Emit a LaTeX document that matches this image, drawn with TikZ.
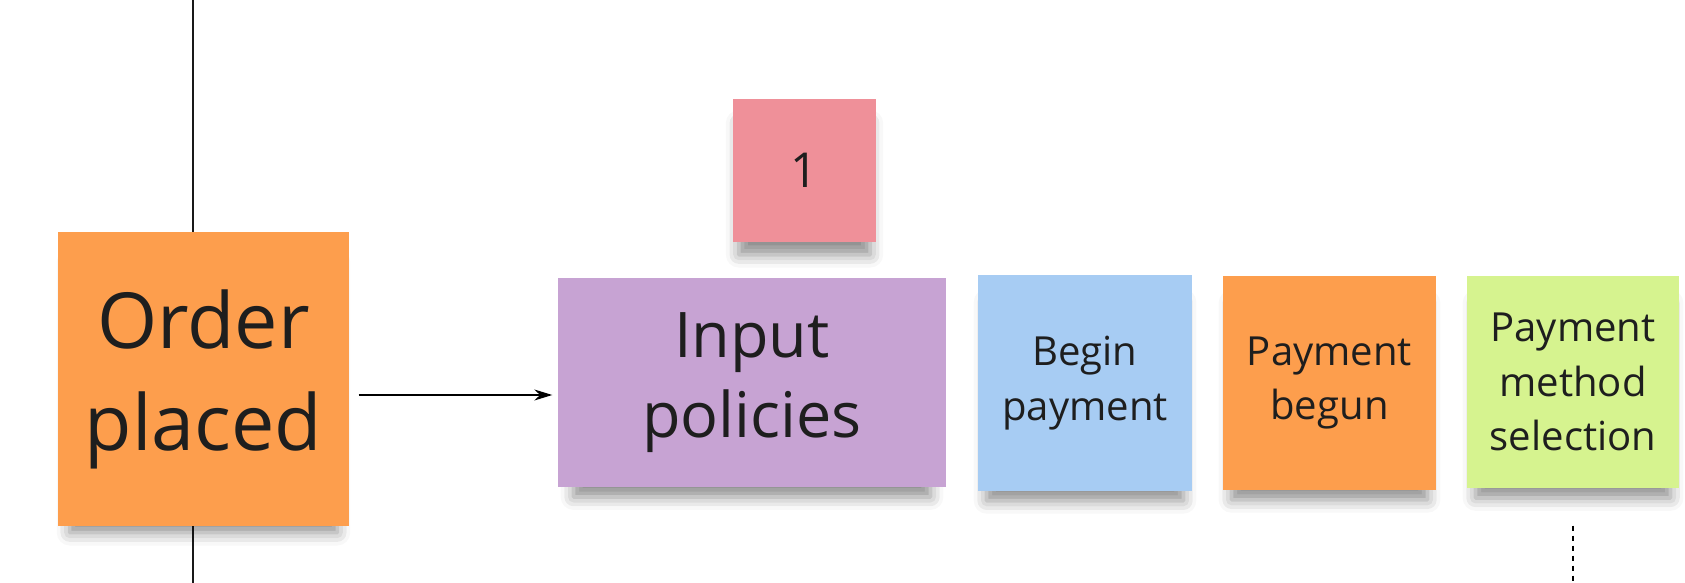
\documentclass[tikz,border=0pt]{standalone}
\usepackage{fontspec}
\setmainfont{Open Sans}
\usetikzlibrary{arrows.meta,positioning,shadows.blur}

\definecolor{noteorange}{HTML}{FD9E4D}
\definecolor{notepurple}{HTML}{C7A3D3}
\definecolor{notepink}{HTML}{EF9099}
\definecolor{noteblue}{HTML}{A7CCF3}
\definecolor{notegreen}{HTML}{D6F38F}
\definecolor{notetext}{HTML}{1E1E1E}

\begin{document}
\begin{tikzpicture}[
    note/.style={rectangle, fill=#1, inner sep=0pt, align=center, text=notetext,
      blur shadow={shadow xshift=0pt, shadow yshift=-0.2cm, shadow scale=0.92,
        shadow opacity=45, shadow blur radius=0.14cm}},
    bigtext/.style={font=\fontsize{22}{29}\selectfont},
    midtext/.style={font=\fontsize{17.9}{24.2}\selectfont},
    smalltext/.style={font=\fontsize{11.4}{15.6}\selectfont},
    flow/.style={-{Stealth[length=0.18cm, width=0.11cm]}, line width=0.4pt},
    lane/.style={line width=0.6pt, black!90}]
    \useasboundingbox (0,0) rectangle (16.85,-5.83);

    % timeline behind the first note
    \coordinate (lanetop) at (1.93,0);
    \coordinate (lanebot) at (1.93,-5.83);
    \draw[lane] (lanetop) -- (lanebot);

    \node[note=noteorange, bigtext, minimum width=2.91cm, minimum height=2.94cm] (order) at (2.035,-3.79) {Order\\placed};
    \node[note=notepurple, midtext, minimum width=3.88cm, minimum height=2.09cm] (policy) at (7.52,-3.825) {\raisebox{-0.05cm}{Input}\\policies};
    \node[note=notepink, font=\fontsize{13.7}{16}\selectfont, minimum width=1.43cm, minimum height=1.43cm] (count) at (8.045,-1.705) {1};
    \node[note=noteblue, smalltext, minimum width=2.14cm, minimum height=2.16cm] (begin) at (10.85,-3.83) {Begin\\payment};
    \node[note=noteorange, smalltext, minimum width=2.13cm, minimum height=2.14cm] (begun) at (13.295,-3.83) {Payment\\begun};
    \node[note=notegreen, smalltext, minimum width=2.12cm, minimum height=2.12cm] (method) at (15.73,-3.82) {Payment\\method\\selection};

    \draw[flow] ([shift={(0.09,-0.16)}]order.east) -- ([shift={(-0.05,-0.125)}]policy.west);

    \coordinate (methodend) at (15.73,-5.83);
    \draw[line width=0.4pt, dash pattern=on 0.05cm off 0.05cm] ([yshift=-0.37cm]method.south) -- (methodend);
\end{tikzpicture}
\end{document}
